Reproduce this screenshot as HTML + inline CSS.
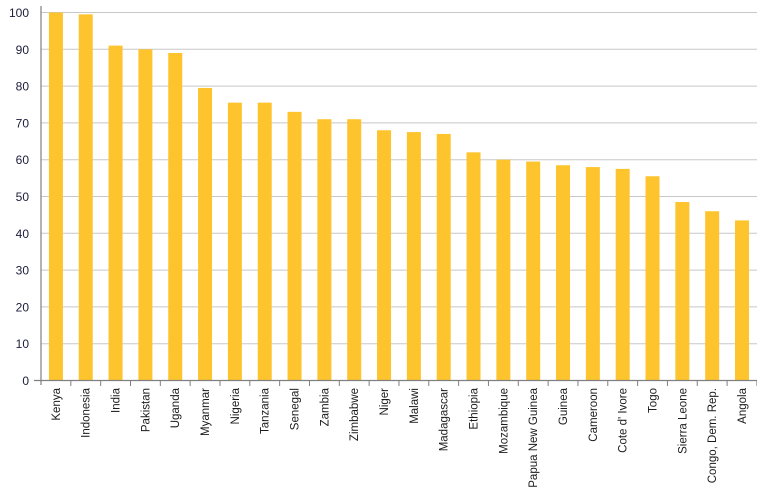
<!DOCTYPE html>
<html><head><style>
html,body{margin:0;padding:0;background:#fff;}
svg text{font-family:"Liberation Sans",Arial,sans-serif;}
</style></head><body>
<svg width="757" height="497" viewBox="0 0 757 497" xmlns="http://www.w3.org/2000/svg">
<g stroke="#c8c8c8" stroke-width="1">
<line x1="41" x2="757" y1="12.5" y2="12.5"/>
<line x1="41" x2="757" y1="49.3" y2="49.3"/>
<line x1="41" x2="757" y1="86.1" y2="86.1"/>
<line x1="41" x2="757" y1="122.9" y2="122.9"/>
<line x1="41" x2="757" y1="159.7" y2="159.7"/>
<line x1="41" x2="757" y1="196.5" y2="196.5"/>
<line x1="41" x2="757" y1="233.3" y2="233.3"/>
<line x1="41" x2="757" y1="270.1" y2="270.1"/>
<line x1="41" x2="757" y1="306.9" y2="306.9"/>
<line x1="41" x2="757" y1="343.7" y2="343.7"/>
</g>
<g id="bars" fill="#fec42d"></g>
<g stroke="#808080" stroke-width="1.2">
<line x1="41" x2="41" y1="6" y2="385"/>
<line x1="34" x2="757" y1="380.5" y2="380.5"/>
</g>
<g id="ticks" stroke="#808080" stroke-width="1"></g>
<g id="ylab" font-size="12" fill="#1c1c3c" text-anchor="end"></g>
<g id="xlab" font-size="11.5" fill="#1a1a1a" text-anchor="end"></g>
<script>
var names=["Kenya","Indonesia","India","Pakistan","Uganda","Myanmar","Nigeria","Tanzania","Senegal","Zambia","Zimbabwe","Niger","Malawi","Madagascar","Ethiopia","Mozambique","Papua New Guinea","Guinea","Cameroon","Cote d' Ivore","Togo","Sierra Leone","Congo, Dem. Rep.","Angola"];
var vals=[100,99.5,91,90,89,79.5,75.5,75.5,73,71,71,68,67.5,67,62,60,59.5,58.5,58,57.5,55.5,48.5,46,43.5];
var NS="http://www.w3.org/2000/svg";
function el(t,a,p,txt){var e=document.createElementNS(NS,t);for(var k in a)e.setAttribute(k,a[k]);if(txt!==undefined)e.textContent=txt;document.getElementById(p).appendChild(e);}
var x0=41,w=29.83,y0=380.5,s=3.68;
for(var i=0;i<24;i++){
 var c=x0+w*(i+0.5);
 el("rect",{x:c-7,y:y0-vals[i]*s,width:14,height:vals[i]*s},"bars");
 el("line",{x1:x0+w*(i+1),x2:x0+w*(i+1),y1:380,y2:386},"ticks");
 el("text",{transform:"translate("+(c+4)+",388) rotate(-90)"},"xlab",names[i]);
}
for(var v=0;v<=100;v+=10){el("text",{x:29,y:y0-v*s+4.5},"ylab",String(v));}
</script>
</svg>
</body></html>
